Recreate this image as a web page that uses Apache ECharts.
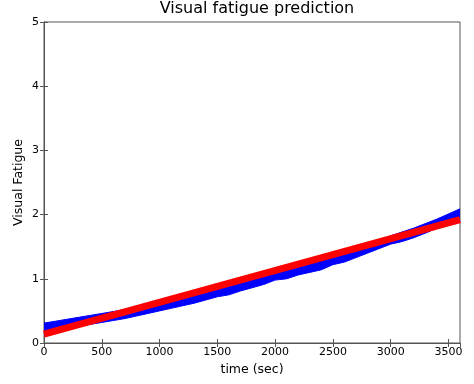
<!DOCTYPE html>
<html><head><meta charset="utf-8">
<script src="https://cdn.jsdelivr.net/npm/echarts@6/dist/echarts.min.js"></script>
<style>html,body{margin:0;padding:0;background:#fff}#c{width:474px;height:384px}</style>
</head><body><div id="c"></div>
<script>
const titleText = 'Visual fatigue prediction';
const xName = 'time (sec)';
const yName = 'Visual Fatigue';
const timeSec = [0,100,200,300,400,500,600,700,800,900,1000,1100,1200,1300,1400,1500,1600,1700,1800,1900,2000,2100,2200,2300,2400,2500,2600,2700,2800,2900,3000,3100,3200,3300,3400,3500,3600];
// upper and lower edges of the measured (blue) band
const measuredHigh = [0.31,0.34,0.37,0.40,0.43,0.46,0.49,0.52,0.56,0.60,0.64,0.68,0.72,0.76,0.81,0.86,0.90,0.95,1.00,1.05,1.11,1.15,1.20,1.25,1.30,1.36,1.41,1.47,1.53,1.60,1.67,1.73,1.79,1.86,1.93,2.01,2.09];
const measuredLow = [0.17,0.20,0.23,0.26,0.29,0.32,0.35,0.38,0.42,0.46,0.50,0.54,0.58,0.62,0.67,0.72,0.75,0.81,0.86,0.91,0.98,1.00,1.06,1.10,1.14,1.22,1.26,1.33,1.40,1.47,1.54,1.58,1.64,1.71,1.79,1.87,1.95];
const fitTime = [0,3600];
const fitVals = [0.14,1.92];

const chart = echarts.init(document.getElementById('c'));
const F = 'DejaVu Sans';
const axCol = '#555';
const tick = () => ({show:true, inside:true, length:4, lineStyle:{color:axCol,width:1}});
const plain = v => String(v);
const bandData = timeSec.map((t,i)=>[t, measuredLow[i], measuredHigh[i]]);
chart.setOption({
  animation:false,
  title:{text:titleText,left:252,top:-4,textAlign:'center',textStyle:{fontFamily:F,fontSize:16,fontWeight:'normal',color:'#000'}},
  grid:{left:44,right:14,top:22,bottom:41,show:true,borderColor:axCol,borderWidth:1,backgroundColor:'transparent'},
  xAxis:[{type:'value',min:0,max:3600,interval:500,name:xName,nameLocation:'middle',nameGap:20,nameMoveOverlap:false,
    nameTextStyle:{fontFamily:F,fontSize:12.5,color:'#000'},
    axisLine:{show:true,lineStyle:{color:axCol,width:1}},axisTick:tick(),
    axisLabel:{fontFamily:F,fontSize:11,color:'#000',margin:4,showMaxLabel:false,formatter:plain},splitLine:{show:false}},
   {type:'value',position:'top',min:0,max:3600,interval:500,
    axisLine:{show:true,lineStyle:{color:axCol,width:1}},axisTick:tick(),axisLabel:{show:false},splitLine:{show:false}}],
  yAxis:[{type:'value',min:0,max:5,interval:1,name:yName,nameLocation:'middle',nameGap:19,nameMoveOverlap:false,
    nameTextStyle:{fontFamily:F,fontSize:12.5,color:'#000'},
    axisLine:{show:true,lineStyle:{color:axCol,width:1}},axisTick:tick(),
    axisLabel:{fontFamily:F,fontSize:11,color:'#000',margin:5,formatter:plain},splitLine:{show:false}},
   {type:'value',position:'right',min:0,max:5,interval:1,
    axisLine:{show:true,lineStyle:{color:axCol,width:1}},axisTick:tick(),axisLabel:{show:false},splitLine:{show:false}}],
  series:[
    {type:'custom',data:bandData,encode:{x:0,y:[1,2]},silent:true,z:2,clip:true,
      renderItem:(params, api)=>{
        if (params.dataIndex !== 0) return null;
        const top = bandData.map(d=>api.coord([d[0], d[2]]));
        const bot = bandData.map(d=>api.coord([d[0], d[1]])).reverse();
        return {type:'polygon', shape:{points: top.concat(bot)}, style:{fill:'#0000ff', stroke:'#0000ff', lineWidth:1}};
      }},
    {type:'line',data:fitTime.map((t,i)=>[t,fitVals[i]]),showSymbol:false,lineStyle:{color:'#ff0000',width:7},z:3},
    {type:'line',xAxisIndex:1,yAxisIndex:1,data:[[0,0]],showSymbol:false,lineStyle:{opacity:0},silent:true}
  ]
});
</script></body></html>
